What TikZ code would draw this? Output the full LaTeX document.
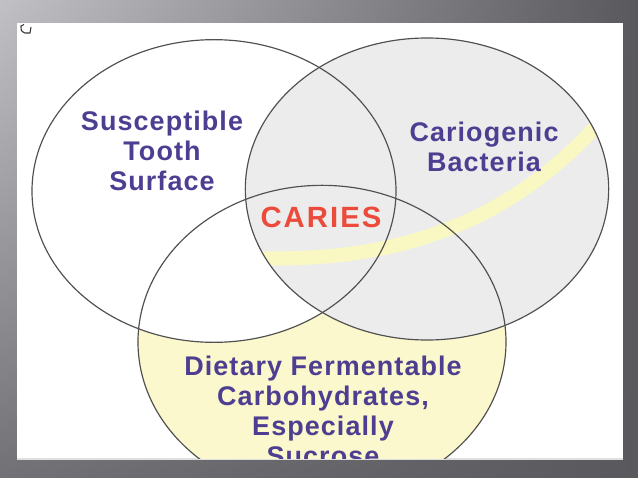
\documentclass[tikz,border=0pt]{standalone}
\usepackage{fontspec}
\setmainfont{Liberation Sans}
\usetikzlibrary{shadings}
\definecolor{venntext}{RGB}{78,62,146}
\definecolor{cariesred}{RGB}{236,74,58}
\definecolor{dietfill}{RGB}{250,248,204}
\definecolor{bactfill}{RGB}{236,236,236}
\definecolor{rimgray}{RGB}{80,80,80}
\definecolor{slidelight}{RGB}{192,192,197}
\definecolor{slidedark}{RGB}{88,88,93}
\begin{document}
\begin{tikzpicture}[x=0.03cm, y=-0.03cm]
                    % Define styles for circles and labels
                    \tikzstyle{rim} = [draw=rimgray, line width=1pt]
                    \tikzstyle{label} = [text=venntext, align=center, inner sep=0pt,
                      font=\bfseries\fontsize{23}{25.5}\selectfont\addfontfeature{LetterSpace=4}]
                    \tikzstyle{core} = [label, text=cariesred,
                      font=\bfseries\fontsize{25}{28}\selectfont\addfontfeature{LetterSpace=7}]
                    \tikzstyle{streak} = [draw=dietfill!95!yellow, line width=12pt, line cap=round]

                    \useasboundingbox (0,0) rectangle (638,478);

                    % Slide background
                    \shade[upper left=slidelight, upper right=slidedark, lower left=slidedark!85!white, lower right=slidedark]
                      (0,0) rectangle (638,478);
                    \fill[white] (17,23) rectangle (623,458);
                    \draw[gray!25, line width=1.2pt] (17,459) -- (623,459);

                    \begin{scope}
                    \clip (17,23) rectangle (623,458);

                    % Fill circles
                    \fill[dietfill] (322,342) ellipse [x radius=5.52cm, y radius=4.7cm];
                    \fill[white] (214,191) ellipse [x radius=5.46cm, y radius=4.54cm];
                    \fill[bactfill] (427,189) ellipse [x radius=5.45cm, y radius=4.53cm];
                    \begin{scope}
                    \clip (427,189) ellipse [x radius=5.45cm, y radius=4.53cm];
                    \path[streak] (250,258) .. controls (410,264) and (530,215) .. (625,92);
                    \end{scope}

                    % Draw outlines
                    \draw[rim] (322,342) ellipse [x radius=5.52cm, y radius=4.7cm];
                    \draw[rim] (214,191) ellipse [x radius=5.46cm, y radius=4.54cm];
                    \draw[rim] (427,189) ellipse [x radius=5.45cm, y radius=4.53cm];

                    % Place nodes
                    \node [label] (tooth) at (162,151) {Susceptible\\Tooth\\Surface};
                    \node [label] (bacteria) at (484,147) {Cariogenic\\Bacteria};
                    \node [core] (caries) at (321,217.5) {CARIES};
                    \node [label, anchor=north] (diet) at (323,356) {Dietary Fermentable\\Carbohydrates,\\Especially\\Sucrose};
                    \end{scope}

                    % Return mark
                    \draw[black!80, line width=0.9pt] (24,24.5) -- (21,26) .. controls (21,31) .. (25,33) -- (30,33) -- (31,27);
                \end{tikzpicture}
\end{document}
